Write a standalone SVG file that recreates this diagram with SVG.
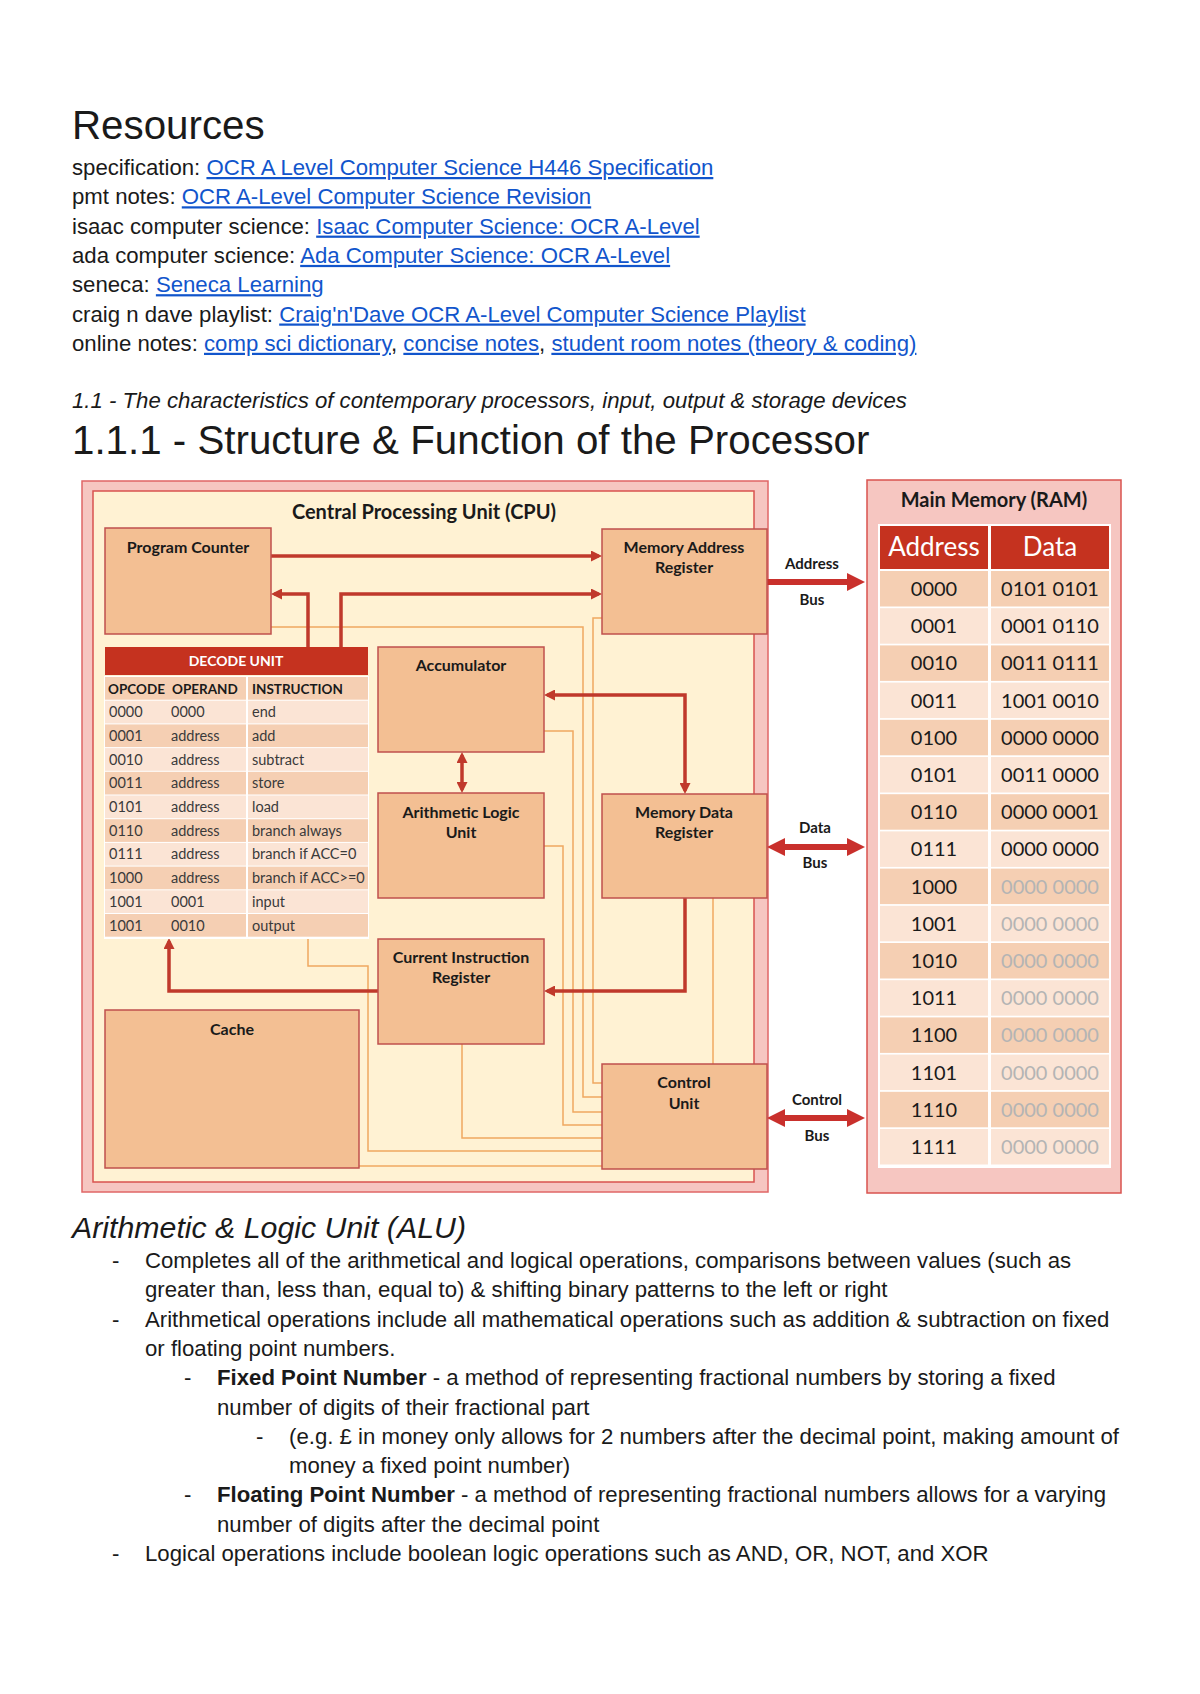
<svg xmlns="http://www.w3.org/2000/svg" width="1200" height="1694" viewBox="0 0 1200 1694">
<style>
.t{font-family:'Liberation Sans',Arial,sans-serif;font-size:22.2px;fill:#1a1a1a}
.link{fill:#1155cc;text-decoration:underline}
.h1{font-size:40.3px}
.h2{font-size:30.3px;font-style:italic}
.it{font-style:italic}
.b{font-weight:700}
.box{fill:#f3bf93;stroke:#c0504d;stroke-width:1.5}
.lbl{font-family:Lato,'Open Sans',sans-serif;font-weight:700;font-size:16px;fill:#1a1a1a;text-anchor:middle}
.ttl{font-family:Lato,'Open Sans',sans-serif;font-weight:700;font-size:20px;fill:#1a1a1a;text-anchor:middle}
.bl{font-family:Lato,'Open Sans',sans-serif;font-weight:700;font-size:15px;fill:#1a1a1a;text-anchor:middle}
.thick{fill:none;stroke:#c0392b;stroke-width:3.5}
.wire{fill:none;stroke:#f0a860;stroke-width:1.5}
.bus{fill:none;stroke:#c9302c;stroke-width:6}
.dk{fill:#f5cfb3}
.lt{fill:#fbe4d5}
.dt{font-family:Lato,'Open Sans',sans-serif;font-size:14.5px;fill:#3a3a3a}
.dh{font-family:Lato,'Open Sans',sans-serif;font-size:13.5px;font-weight:700;fill:#1a1a1a}
.rt{font-family:Lato,'Open Sans',sans-serif;font-size:20px;fill:#1a1a1a;text-anchor:middle}
.gr{fill:#b4b4b4}
.rh{font-family:Lato,'Open Sans',sans-serif;font-size:26px;fill:#fff;text-anchor:middle}
</style>
<defs>
<marker id="a" viewBox="0 0 10 10" refX="7" refY="5" markerWidth="11" markerHeight="11" markerUnits="userSpaceOnUse" orient="auto-start-reverse"><path d="M0,0L10,5L0,10z" fill="#c0392b"/></marker>
<marker id="bh" viewBox="0 0 10 10" refX="6.5" refY="5" markerWidth="18" markerHeight="18" markerUnits="userSpaceOnUse" orient="auto-start-reverse"><path d="M0,0L10,5L0,10z" fill="#c9302c"/></marker>
</defs>
<rect width="1200" height="1694" fill="#fff"/>

<g id="header-text">
<text class="t h1" x="72" y="139">Resources</text>
<text class="t" x="72" y="175">specification: <tspan class="link">OCR A Level Computer Science H446 Specification</tspan></text>
<text class="t" x="72" y="204.3">pmt notes: <tspan class="link">OCR A-Level Computer Science Revision</tspan></text>
<text class="t" x="72" y="233.6">isaac computer science: <tspan class="link">Isaac Computer Science: OCR A-Level</tspan></text>
<text class="t" x="72" y="262.9">ada computer science: <tspan class="link">Ada Computer Science: OCR A-Level</tspan></text>
<text class="t" x="72" y="292.2">seneca: <tspan class="link">Seneca Learning</tspan></text>
<text class="t" x="72" y="321.5">craig n dave playlist: <tspan class="link">Craig'n'Dave OCR A-Level Computer Science Playlist</tspan></text>
<text class="t" x="72" y="350.8">online notes: <tspan class="link">comp sci dictionary</tspan>, <tspan class="link">concise notes</tspan>, <tspan class="link">student room notes (theory &amp; coding)</tspan></text>
<text class="t it" x="72" y="408">1.1 - The characteristics of contemporary processors, input, output &amp; storage devices</text>
<text class="t h1" x="72" y="454">1.1.1 - Structure &amp; Function of the Processor</text>
</g>

<g id="cpu">
<rect x="82" y="481" width="686" height="711" fill="#f6c6c1" stroke="#e06666" stroke-width="1.5"/>
<rect x="93" y="491" width="661" height="691" fill="#fff2d3" stroke="#d9534f" stroke-width="1.5"/>
<text class="ttl" x="424" y="519">Central Processing Unit (CPU)</text>
</g>

<g id="ram">
<rect x="867" y="480" width="254" height="713" fill="#f6c6c1" stroke="#d9534f" stroke-width="1.5"/>
<text class="ttl" x="994" y="507">Main Memory (RAM)</text>
<rect x="878" y="524" width="233" height="644" fill="#fff"/>
<rect x="880" y="526" width="108" height="43" fill="#c5321f"/>
<rect x="991" y="526" width="118" height="43" fill="#c5321f"/>
<text class="rh" x="934" y="556">Address</text>
<text class="rh" x="1050" y="556">Data</text>
<g id="ram-rows">
<rect class="dk" x="880" y="571" width="108" height="35.5"/><rect class="dk" x="991" y="571" width="118" height="35.5"/>
<rect class="lt" x="880" y="608.2" width="108" height="35.5"/><rect class="lt" x="991" y="608.2" width="118" height="35.5"/>
<rect class="dk" x="880" y="645.4" width="108" height="35.5"/><rect class="dk" x="991" y="645.4" width="118" height="35.5"/>
<rect class="lt" x="880" y="682.6" width="108" height="35.5"/><rect class="lt" x="991" y="682.6" width="118" height="35.5"/>
<rect class="dk" x="880" y="719.8" width="108" height="35.5"/><rect class="dk" x="991" y="719.8" width="118" height="35.5"/>
<rect class="lt" x="880" y="757" width="108" height="35.5"/><rect class="lt" x="991" y="757" width="118" height="35.5"/>
<rect class="dk" x="880" y="794.2" width="108" height="35.5"/><rect class="dk" x="991" y="794.2" width="118" height="35.5"/>
<rect class="lt" x="880" y="831.4" width="108" height="35.5"/><rect class="lt" x="991" y="831.4" width="118" height="35.5"/>
<rect class="dk" x="880" y="868.6" width="108" height="35.5"/><rect class="dk" x="991" y="868.6" width="118" height="35.5"/>
<rect class="lt" x="880" y="905.8" width="108" height="35.5"/><rect class="lt" x="991" y="905.8" width="118" height="35.5"/>
<rect class="dk" x="880" y="943" width="108" height="35.5"/><rect class="dk" x="991" y="943" width="118" height="35.5"/>
<rect class="lt" x="880" y="980.2" width="108" height="35.5"/><rect class="lt" x="991" y="980.2" width="118" height="35.5"/>
<rect class="dk" x="880" y="1017.4" width="108" height="35.5"/><rect class="dk" x="991" y="1017.4" width="118" height="35.5"/>
<rect class="lt" x="880" y="1054.6" width="108" height="35.5"/><rect class="lt" x="991" y="1054.6" width="118" height="35.5"/>
<rect class="dk" x="880" y="1091.8" width="108" height="35.5"/><rect class="dk" x="991" y="1091.8" width="118" height="35.5"/>
<rect class="lt" x="880" y="1129" width="108" height="35.5"/><rect class="lt" x="991" y="1129" width="118" height="35.5"/>
</g>
<g id="ram-text">
<text class="rt" x="934" y="596">0000</text><text class="rt" x="1050" y="596">0101 0101</text>
<text class="rt" x="934" y="633.2">0001</text><text class="rt" x="1050" y="633.2">0001 0110</text>
<text class="rt" x="934" y="670.4">0010</text><text class="rt" x="1050" y="670.4">0011 0111</text>
<text class="rt" x="934" y="707.6">0011</text><text class="rt" x="1050" y="707.6">1001 0010</text>
<text class="rt" x="934" y="744.8">0100</text><text class="rt" x="1050" y="744.8">0000 0000</text>
<text class="rt" x="934" y="782">0101</text><text class="rt" x="1050" y="782">0011 0000</text>
<text class="rt" x="934" y="819.2">0110</text><text class="rt" x="1050" y="819.2">0000 0001</text>
<text class="rt" x="934" y="856.4">0111</text><text class="rt" x="1050" y="856.4">0000 0000</text>
<text class="rt" x="934" y="893.6">1000</text><text class="rt gr" x="1050" y="893.6">0000 0000</text>
<text class="rt" x="934" y="930.8">1001</text><text class="rt gr" x="1050" y="930.8">0000 0000</text>
<text class="rt" x="934" y="968">1010</text><text class="rt gr" x="1050" y="968">0000 0000</text>
<text class="rt" x="934" y="1005.2">1011</text><text class="rt gr" x="1050" y="1005.2">0000 0000</text>
<text class="rt" x="934" y="1042.4">1100</text><text class="rt gr" x="1050" y="1042.4">0000 0000</text>
<text class="rt" x="934" y="1079.6">1101</text><text class="rt gr" x="1050" y="1079.6">0000 0000</text>
<text class="rt" x="934" y="1116.8">1110</text><text class="rt gr" x="1050" y="1116.8">0000 0000</text>
<text class="rt" x="934" y="1154">1111</text><text class="rt gr" x="1050" y="1154">0000 0000</text>
</g>
</g>

<g id="connectors">
<path class="wire" d="M271,627H583V1097H602"/>
<path class="wire" d="M602,618H593V1083H602"/>
<path class="wire" d="M544,731H573V1112H602"/>
<path class="wire" d="M544,846H563V1125H602"/>
<path class="wire" d="M308,938V966H368V1151H602"/>
<path class="wire" d="M462,1044V1138H602"/>
<path class="wire" d="M359,1166H602"/>
<path class="wire" d="M713,898V1064"/>
<path class="thick" d="M271,556H598.7" marker-end="url(#a)"/>
<path class="thick" d="M308,647V594H274.3" marker-end="url(#a)"/>
<path class="thick" d="M341,647V594H598.7" marker-end="url(#a)"/>
<path class="thick" d="M462,755.3V789.7" marker-start="url(#a)" marker-end="url(#a)"/>
<path class="thick" d="M547.3,695H685V790.7" marker-start="url(#a)" marker-end="url(#a)"/>
<path class="thick" d="M685,898V991H547.3" marker-end="url(#a)"/>
<path class="thick" d="M378,991H169V941.3" marker-end="url(#a)"/>
<path class="bus" d="M767,582H858.7" marker-end="url(#bh)"/>
<path class="bus" d="M773.3,847H858.7" marker-start="url(#bh)" marker-end="url(#bh)"/>
<path class="bus" d="M773.3,1118H858.7" marker-start="url(#bh)" marker-end="url(#bh)"/>
<text class="bl" x="812" y="569">Address</text>
<text class="bl" x="812" y="605">Bus</text>
<text class="bl" x="815" y="833">Data</text>
<text class="bl" x="815" y="868">Bus</text>
<text class="bl" x="817" y="1105">Control</text>
<text class="bl" x="817" y="1141">Bus</text>
</g>

<g id="program-counter">
<rect class="box" x="105" y="528" width="166" height="106"/>
<text class="lbl" x="188" y="553">Program Counter</text>
</g>
<g id="mar">
<rect class="box" x="602" y="529" width="165" height="105"/>
<text class="lbl" x="684" y="553">Memory Address</text>
<text class="lbl" x="684" y="573">Register</text>
</g>
<g id="accumulator">
<rect class="box" x="378" y="647" width="166" height="105"/>
<text class="lbl" x="461" y="671">Accumulator</text>
</g>
<g id="alu">
<rect class="box" x="378" y="793" width="166" height="105"/>
<text class="lbl" x="461" y="818">Arithmetic Logic</text>
<text class="lbl" x="461" y="838">Unit</text>
</g>
<g id="mdr">
<rect class="box" x="602" y="794" width="165" height="104"/>
<text class="lbl" x="684" y="818">Memory Data</text>
<text class="lbl" x="684" y="838">Register</text>
</g>
<g id="cir">
<rect class="box" x="378" y="939" width="166" height="105"/>
<text class="lbl" x="461" y="963">Current Instruction</text>
<text class="lbl" x="461" y="983">Register</text>
</g>
<g id="cache">
<rect class="box" x="105" y="1010" width="254" height="158"/>
<text class="lbl" x="232" y="1035">Cache</text>
</g>
<g id="control-unit">
<rect class="box" x="602" y="1064" width="165" height="105"/>
<text class="lbl" x="684" y="1088">Control</text>
<text class="lbl" x="684" y="1109">Unit</text>
</g>

<g id="decode-unit">
<rect x="105" y="647" width="263" height="28" fill="#c5321f"/>
<text x="236" y="666" font-family="Lato,'Open Sans',sans-serif" font-size="14px" font-weight="700" fill="#fff" text-anchor="middle">DECODE UNIT</text>
<rect x="104" y="676" width="265" height="263" fill="#fff"/>
<rect class="dk" x="105" y="677" width="141" height="22.7"/><rect class="dk" x="248" y="677" width="120" height="22.7"/>
<rect class="lt" x="105" y="700.7" width="141" height="22.7"/><rect class="lt" x="248" y="700.7" width="120" height="22.7"/>
<rect class="dk" x="105" y="724.4" width="141" height="22.7"/><rect class="dk" x="248" y="724.4" width="120" height="22.7"/>
<rect class="lt" x="105" y="748.1" width="141" height="22.7"/><rect class="lt" x="248" y="748.1" width="120" height="22.7"/>
<rect class="dk" x="105" y="771.8" width="141" height="22.7"/><rect class="dk" x="248" y="771.8" width="120" height="22.7"/>
<rect class="lt" x="105" y="795.5" width="141" height="22.7"/><rect class="lt" x="248" y="795.5" width="120" height="22.7"/>
<rect class="dk" x="105" y="819.2" width="141" height="22.7"/><rect class="dk" x="248" y="819.2" width="120" height="22.7"/>
<rect class="lt" x="105" y="842.9" width="141" height="22.7"/><rect class="lt" x="248" y="842.9" width="120" height="22.7"/>
<rect class="dk" x="105" y="866.6" width="141" height="22.7"/><rect class="dk" x="248" y="866.6" width="120" height="22.7"/>
<rect class="lt" x="105" y="890.3" width="141" height="22.7"/><rect class="lt" x="248" y="890.3" width="120" height="22.7"/>
<rect class="dk" x="105" y="914" width="141" height="22.7"/><rect class="dk" x="248" y="914" width="120" height="22.7"/>
<text class="dh" x="108" y="693.5">OPCODE</text><text class="dh" x="172" y="693.5">OPERAND</text><text class="dh" x="252" y="693.5">INSTRUCTION</text>
<text class="dt" x="109" y="717.2">0000</text><text class="dt" x="171" y="717.2">0000</text><text class="dt" x="252" y="717.2">end</text>
<text class="dt" x="109" y="740.9">0001</text><text class="dt" x="171" y="740.9">address</text><text class="dt" x="252" y="740.9">add</text>
<text class="dt" x="109" y="764.6">0010</text><text class="dt" x="171" y="764.6">address</text><text class="dt" x="252" y="764.6">subtract</text>
<text class="dt" x="109" y="788.3">0011</text><text class="dt" x="171" y="788.3">address</text><text class="dt" x="252" y="788.3">store</text>
<text class="dt" x="109" y="812">0101</text><text class="dt" x="171" y="812">address</text><text class="dt" x="252" y="812">load</text>
<text class="dt" x="109" y="835.7">0110</text><text class="dt" x="171" y="835.7">address</text><text class="dt" x="252" y="835.7">branch always</text>
<text class="dt" x="109" y="859.4">0111</text><text class="dt" x="171" y="859.4">address</text><text class="dt" x="252" y="859.4">branch if ACC=0</text>
<text class="dt" x="109" y="883.1">1000</text><text class="dt" x="171" y="883.1">address</text><text class="dt" x="252" y="883.1">branch if ACC&gt;=0</text>
<text class="dt" x="109" y="906.8">1001</text><text class="dt" x="171" y="906.8">0001</text><text class="dt" x="252" y="906.8">input</text>
<text class="dt" x="109" y="930.5">1001</text><text class="dt" x="171" y="930.5">0010</text><text class="dt" x="252" y="930.5">output</text>
</g>

<g id="alu-notes">
<text class="t h2" x="72" y="1238">Arithmetic &amp; Logic Unit (ALU)</text>
<text class="t" x="112" y="1268">-</text>
<text class="t" x="145" y="1268">Completes all of the arithmetical and logical operations, comparisons between values (such as</text>
<text class="t" x="145" y="1297.3">greater than, less than, equal to) &amp; shifting binary patterns to the left or right</text>
<text class="t" x="112" y="1326.6">-</text>
<text class="t" x="145" y="1326.6">Arithmetical operations include all mathematical operations such as addition &amp; subtraction on fixed</text>
<text class="t" x="145" y="1355.9">or floating point numbers.</text>
<text class="t" x="184" y="1385.2">-</text>
<text class="t" x="217" y="1385.2"><tspan class="b">Fixed Point Number</tspan> - a method of representing fractional numbers by storing a fixed</text>
<text class="t" x="217" y="1414.5">number of digits of their fractional part</text>
<text class="t" x="256" y="1443.8">-</text>
<text class="t" x="289" y="1443.8">(e.g. £ in money only allows for 2 numbers after the decimal point, making amount of</text>
<text class="t" x="289" y="1473.1">money a fixed point number)</text>
<text class="t" x="184" y="1502.4">-</text>
<text class="t" x="217" y="1502.4"><tspan class="b">Floating Point Number</tspan> - a method of representing fractional numbers allows for a varying</text>
<text class="t" x="217" y="1531.7">number of digits after the decimal point</text>
<text class="t" x="112" y="1561">-</text>
<text class="t" x="145" y="1561">Logical operations include boolean logic operations such as AND, OR, NOT, and XOR</text>
</g>
</svg>
